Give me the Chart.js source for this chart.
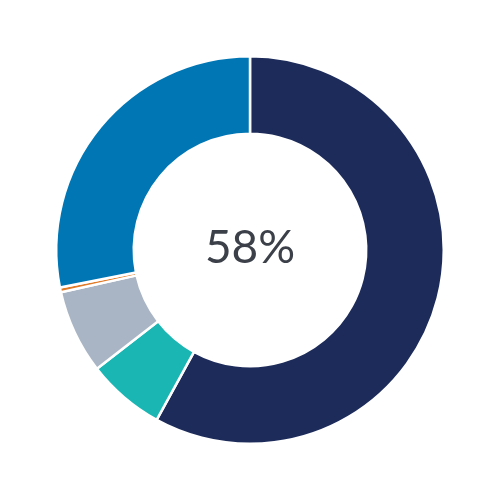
<!DOCTYPE html>
<html>
<head>
<meta charset="utf-8">
<script src="https://cdn.jsdelivr.net/npm/chart.js@4/dist/chart.umd.min.js"></script>
<style>
html,body{margin:0;padding:0;background:#fff;}
#wrap{position:relative;width:500px;height:500px;}
#center{position:absolute;left:0;top:-5px;width:500px;height:500px;display:flex;align-items:center;justify-content:center;font-family:Lato,"Open Sans",sans-serif;font-size:46px;color:#3b4049;pointer-events:none;}
</style>
</head>
<body>
<div id="wrap"><canvas id="c" width="500" height="500"></canvas><div id="center">58%</div></div>
<script>
const categories = ["Segment A", "Segment B", "Segment C", "Segment D", "Segment E"];
const values = [58, 6.5, 7.0, 0.4, 28.1];
const colors = ["#1c2b5a", "#1ab6b4", "#a9b5c4", "#e07b2a", "#0076b4"];
const centerLabel = "58%";
document.getElementById('center').textContent = centerLabel;
new Chart(document.getElementById('c'), {
  type: 'doughnut',
  data: {
    labels: categories,
    datasets: [{
      data: values,
      backgroundColor: colors,
      borderColor: '#ffffff',
      borderWidth: 2.5
    }]
  },
  options: {
    responsive: false,
    animation: false,
    cutout: '60%',
    layout: { padding: 55 },
    plugins: { legend: { display: false }, tooltip: { enabled: false } }
  }
});
</script>
</body>
</html>
